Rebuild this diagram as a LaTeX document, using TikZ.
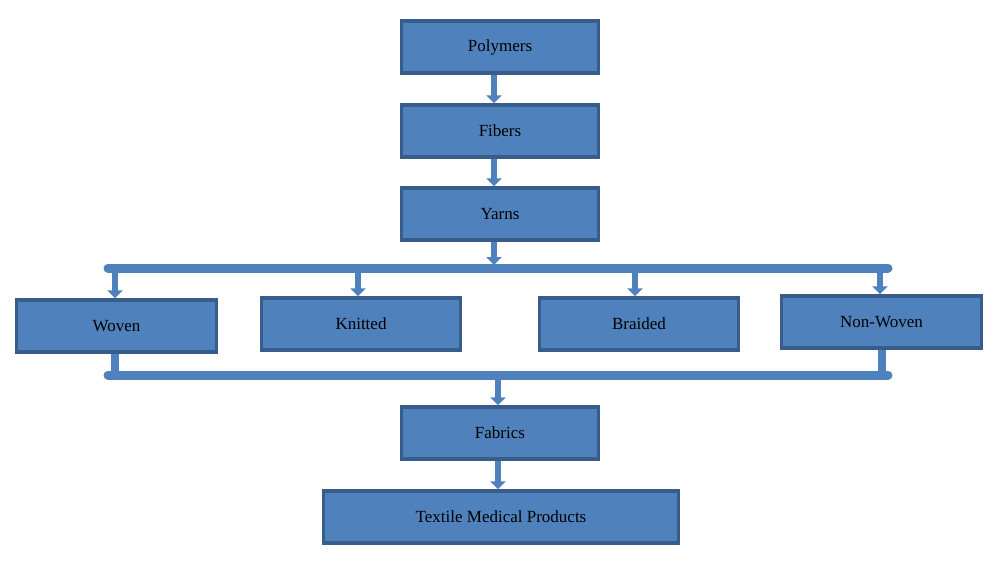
\documentclass[tikz,border=0pt]{standalone}
\usepackage{fontspec}
\setmainfont{Liberation Serif}
\usetikzlibrary{arrows.meta}
\definecolor{bfill}{HTML}{4F81BD}
\definecolor{bdraw}{HTML}{385D8A}
\begin{document}
\begin{tikzpicture}[x=1pt,y=-1pt,
  box/.style={draw=bdraw,fill=bfill,line width=3.5pt,minimum height=52pt,font=\fontsize{17}{20}\selectfont,inner sep=0pt},
  barr/.style={draw=bfill,line width=6pt,-{Triangle[width=15pt,length=8pt]}},
  bar/.style={draw=bfill,line width=9pt,line cap=round}]
\useasboundingbox (0,0) rectangle (991,565);
\node[box,minimum width=197pt] (pol) at (500,47) {Polymers};
\node[box,minimum width=197pt] (fib) at (500,131) {Fibers};
\node[box,minimum width=197pt] (yar) at (500,214) {Yarns};
\node[box,minimum width=200pt] (wov) at (116.5,326) {Woven};
\node[box,minimum width=199pt] (kni) at (361,324) {Knitted};
\node[box,minimum width=199pt] (bra) at (639,324) {Braided};
\node[box,minimum width=200pt] (non) at (881.5,322) {Non-Woven};
\node[box,minimum width=197pt] (fab) at (500,433) {Fabrics};
\node[box,minimum width=355pt] (tmp) at (501,517) {Textile Medical Products};
\coordinate (t1) at (108,268); \coordinate (t2) at (888,268);
\coordinate (b1) at (108,375); \coordinate (b2) at (888,375);
\draw[bar] (t1) -- (t2);
\draw[bar] (b1) -- (b2);
\draw[barr] (pol.south -| 494,0) -- (fib.north -| 494,0);
\draw[barr] (fib.south -| 494,0) -- (yar.north -| 494,0);
\draw[barr] (yar.south -| 494,0) -- (494,265);
\draw[barr] (115,272) -- (wov.north -| 115,0);
\draw[barr] (358,272) -- (kni.north -| 358,0);
\draw[barr] (635,272) -- (bra.north -| 635,0);
\draw[barr] (880,272) -- (non.north -| 880,0);
\draw[draw=bfill,line width=8pt] (wov.south -| 115,0) -- (115,375);
\draw[draw=bfill,line width=8pt] (non.south -| 882,0) -- (882,375);
\draw[barr] (498,379) -- (fab.north -| 498,0);
\draw[barr] (fab.south -| 498,0) -- (tmp.north -| 498,0);
\end{tikzpicture}
\end{document}
